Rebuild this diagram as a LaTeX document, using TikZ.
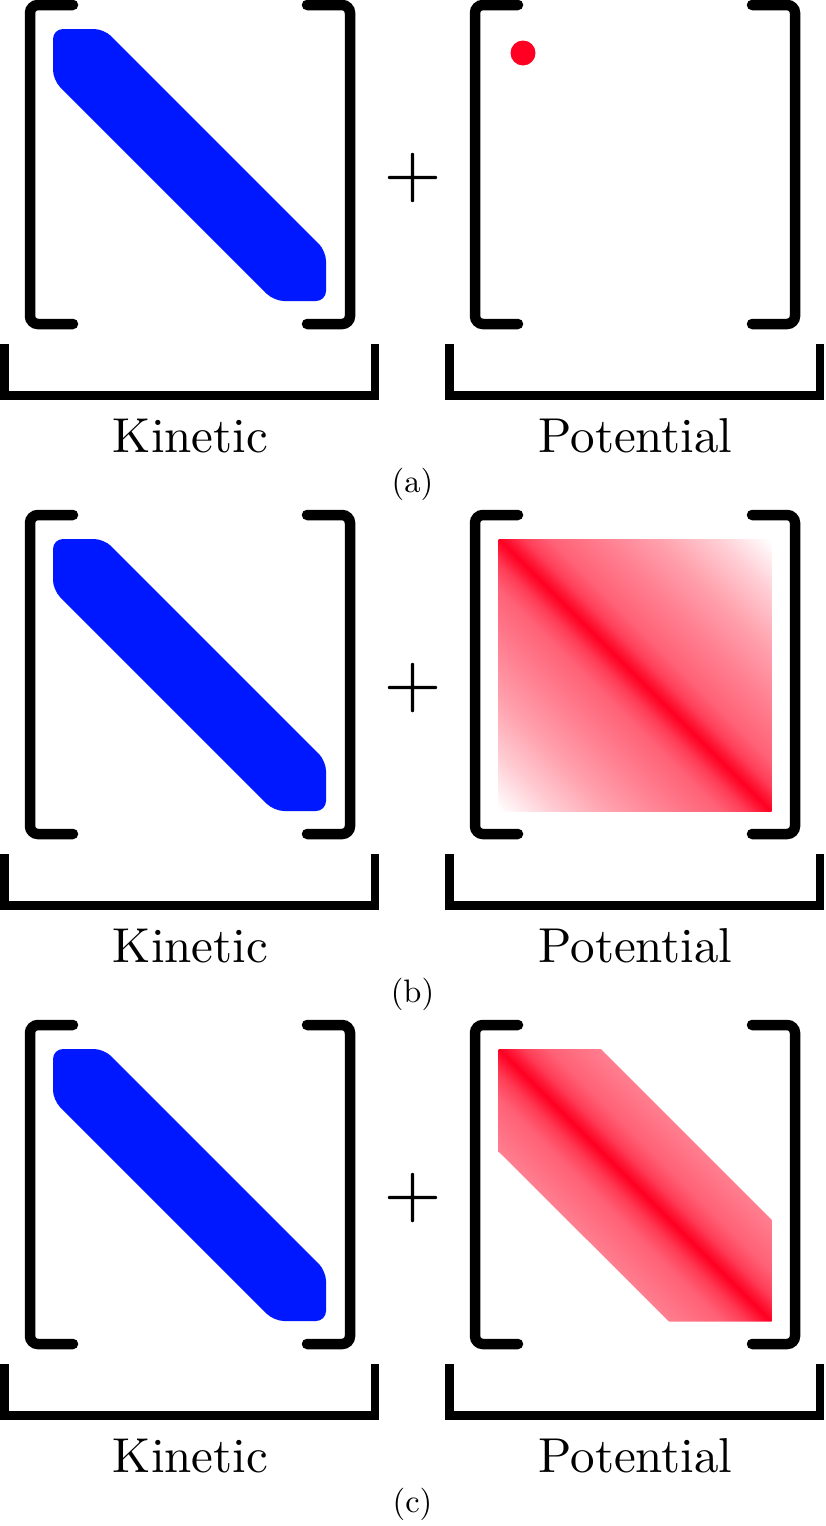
\documentclass[tikz,border=0pt]{standalone}
\usepackage{fontspec}
\setmainfont{lmroman10-regular.otf}
\newfontfamily\plusfont{lmroman10-regular.otf}[FakeBold=0.6]
\definecolor{kblue}{RGB}{0,24,255}
\definecolor{pred}{RGB}{255,0,34}
\colorlet{pnn}{pred!93!white}
\colorlet{psv}{pred!76!white}
\colorlet{psx}{pred!62!white}
\colorlet{pfv}{pred!51!white}
\colorlet{pth}{pred!37!white}
\colorlet{ptw}{pred!19!white}
\pgfdeclarehorizontalshading{potshade}{100bp}{color(0bp)=(white); color(14.64bp)=(white); color(21.51bp)=(ptw); color(29.28bp)=(pth); color(37.05bp)=(pfv); color(43.52bp)=(psx); color(46.76bp)=(psv); color(48.96bp)=(pnn); color(50bp)=(pred); color(51.04bp)=(pnn); color(53.24bp)=(psv); color(56.48bp)=(psx); color(62.95bp)=(pfv); color(70.72bp)=(pth); color(78.49bp)=(ptw); color(85.36bp)=(white); color(100bp)=(white)}
\begin{document}
\begin{tikzpicture}[x=1pt,y=-1pt,
  brk/.style={line width=10.5pt, line cap=round, rounded corners=8pt},
  ubrace/.style={line width=8.5pt, line cap=butt, line join=miter},
  lbl/.style={font=\fontsize{49}{60}\selectfont, inner sep=0pt, anchor=base},
  capt/.style={font=\fontsize{32.5}{38}\selectfont, inner sep=0pt, anchor=base},
  plussign/.style={font=\plusfont\fontsize{73.5}{80}\selectfont, inner sep=0pt},
  kin/.style={fill=kblue, rounded corners=10pt},
  pot/.style={shading=potshade, shading angle=45}]
\useasboundingbox (0,0) rectangle (825,1526);
\foreach \r/\lab in {0/a,510/b,1020/c}{
 \begin{scope}[shift={(0,\r)}]
  \foreach \ox in {0,445}{
   \draw[brk] (\ox+73,5) -- (\ox+30,5) -- (\ox+30,324) -- (\ox+73,324);
   \draw[brk] (\ox+307,5) -- (\ox+350,5) -- (\ox+350,324) -- (\ox+307,324);
   \draw[ubrace] (\ox+4.25,344) -- (\ox+4.25,395.5) -- (\ox+374.75,395.5) -- (\ox+374.75,344);
  }
  \fill[kin] (80,29) -- (104,29) -- (326,251) -- (326,301) -- (274,301) -- (53,80) -- (53,29) -- cycle;
  \node[plussign] (plus\lab) at (412.5,177.5) {+};
  \node[lbl] (kin\lab) at (190.5,452) {Kinetic};
  \node[lbl] (pot\lab) at (635.5,452) {Potential};
  \node[capt] (cap\lab) at (412.5,492) {(\lab)};
 \end{scope}
}
% (a) single element
\fill[pred] (523,53) circle[radius=12.5pt];
% (b) full potential
\shade[pot] (498.5,539) rectangle (771.5,811.5);
% (c) banded potential
\begin{scope}
 \clip (498.5,1049) -- (601,1049) -- (771.5,1219.5) -- (771.5,1321.5) -- (669,1321.5) -- (498.5,1151.5) -- cycle;
 \shade[pot] (498.5,1049) rectangle (771.5,1321.5);
\end{scope}
\end{tikzpicture}
\end{document}
